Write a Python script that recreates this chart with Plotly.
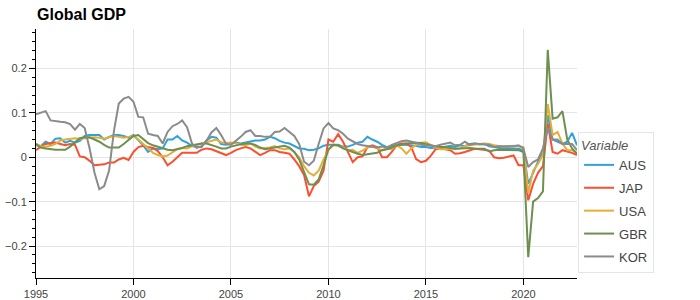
import pandas as pd
import plotly.graph_objects as go

dates = pd.date_range("1995-01-01", periods=112, freq="QS")

AUS = [0.027, 0.025, 0.035, 0.030, 0.042, 0.043, 0.033, 0.037, 0.033, 0.037, 0.048, 0.050,
       0.050, 0.050, 0.040, 0.046, 0.050, 0.050, 0.048, 0.044, 0.050, 0.038, 0.027, 0.012,
       0.020, 0.018, 0.020, 0.040, 0.040, 0.048, 0.038, 0.033, 0.025, 0.023, 0.023, 0.038,
       0.046, 0.044, 0.030, 0.028, 0.030, 0.033, 0.031, 0.033, 0.035, 0.038, 0.038, 0.040,
       0.046, 0.043, 0.037, 0.033, 0.031, 0.026, 0.020, 0.019, 0.016, 0.017, 0.020, 0.026,
       0.028, 0.028, 0.028, 0.024, 0.024, 0.028, 0.033, 0.035, 0.046, 0.040, 0.035, 0.028,
       0.023, 0.025, 0.028, 0.029, 0.028, 0.027, 0.026, 0.023, 0.023, 0.021, 0.021, 0.022,
       0.024, 0.026, 0.023, 0.027, 0.025, 0.030, 0.031, 0.029, 0.030, 0.025, 0.023, 0.021,
       0.021, 0.021, 0.020, 0.019, 0.015, -0.060, -0.035, -0.010, 0.010, 0.095, 0.040, 0.035,
       0.030, 0.035, 0.055, 0.027]

JAP = [0.016, 0.024, 0.030, 0.031, 0.033, 0.030, 0.027, 0.030, 0.028, 0.002, 0.000, -0.008,
       -0.018, -0.017, -0.016, -0.012, -0.012, -0.005, -0.001, -0.006, 0.012, 0.023, 0.026, 0.023,
       0.021, 0.014, 0.000, -0.018, -0.010, 0.000, 0.010, 0.010, 0.010, 0.010, 0.017, 0.020,
       0.018, 0.014, 0.010, 0.005, 0.010, 0.016, 0.020, 0.023, 0.020, 0.012, 0.005, 0.010,
       0.016, 0.016, 0.012, 0.010, 0.008, -0.005, -0.020, -0.040, -0.088, -0.065, -0.055, -0.030,
       0.040, 0.035, 0.052, 0.035, 0.010, -0.011, 0.000, 0.002, 0.023, 0.027, 0.023, 0.000,
       0.000, 0.012, 0.027, 0.031, 0.031, 0.023, -0.004, -0.011, -0.008, 0.003, 0.018, 0.020,
       0.018, 0.016, 0.008, 0.009, 0.012, 0.015, 0.019, 0.018, 0.016, 0.015, 0.000, -0.002,
       -0.001, 0.002, 0.004, -0.018, -0.018, -0.097, -0.060, -0.035, -0.020, 0.076, 0.012, 0.008,
       0.016, 0.013, 0.010, 0.005]

USA = [0.031, 0.025, 0.024, 0.026, 0.030, 0.038, 0.040, 0.042, 0.043, 0.042, 0.043, 0.045,
       0.045, 0.044, 0.042, 0.045, 0.048, 0.046, 0.044, 0.046, 0.048, 0.040, 0.030, 0.020,
       0.010, 0.005, 0.002, 0.004, 0.012, 0.018, 0.021, 0.020, 0.025, 0.028, 0.031, 0.035,
       0.038, 0.040, 0.034, 0.032, 0.033, 0.031, 0.029, 0.027, 0.031, 0.024, 0.020, 0.021,
       0.022, 0.025, 0.020, 0.018, 0.020, 0.012, 0.000, -0.020, -0.035, -0.041, -0.030, -0.005,
       0.016, 0.027, 0.026, 0.022, 0.016, 0.017, 0.010, 0.015, 0.022, 0.024, 0.020, 0.016,
       0.020, 0.018, 0.027, 0.020, 0.008, 0.020, 0.028, 0.033, 0.034, 0.028, 0.022, 0.018,
       0.018, 0.020, 0.018, 0.020, 0.025, 0.027, 0.029, 0.030, 0.031, 0.030, 0.027, 0.025,
       0.024, 0.025, 0.026, 0.025, 0.023, -0.080, -0.030, -0.015, 0.005, 0.120, 0.050, 0.057,
       0.031, 0.016, 0.016, 0.009]

GBR = [0.030, 0.022, 0.020, 0.018, 0.017, 0.017, 0.017, 0.024, 0.033, 0.043, 0.045, 0.045,
       0.040, 0.035, 0.028, 0.022, 0.022, 0.022, 0.030, 0.040, 0.048, 0.050, 0.040, 0.032,
       0.027, 0.024, 0.020, 0.017, 0.016, 0.018, 0.021, 0.025, 0.027, 0.029, 0.031, 0.031,
       0.028, 0.024, 0.020, 0.020, 0.024, 0.027, 0.029, 0.031, 0.031, 0.028, 0.022, 0.018,
       0.020, 0.023, 0.025, 0.026, 0.022, 0.012, -0.005, -0.035, -0.061, -0.062, -0.050, -0.018,
       0.018, 0.028, 0.027, 0.020, 0.015, 0.012, 0.008, 0.005, 0.007, 0.008, 0.010, 0.016,
       0.018, 0.022, 0.027, 0.028, 0.031, 0.032, 0.033, 0.032, 0.029, 0.027, 0.025, 0.023,
       0.023, 0.021, 0.019, 0.020, 0.021, 0.021, 0.020, 0.020, 0.019, 0.013, 0.016, 0.017,
       0.017, 0.016, 0.016, 0.016, 0.012, -0.225, -0.100, -0.092, -0.077, 0.242, 0.087, 0.090,
       0.104, 0.040, 0.020, 0.008]

KOR = [0.097, 0.100, 0.104, 0.083, 0.081, 0.080, 0.079, 0.075, 0.062, 0.075, 0.066, 0.020,
       -0.035, -0.072, -0.065, -0.030, 0.060, 0.121, 0.132, 0.136, 0.125, 0.091, 0.090, 0.053,
       0.050, 0.048, 0.031, 0.057, 0.070, 0.075, 0.083, 0.068, 0.031, 0.021, 0.025, 0.038,
       0.056, 0.066, 0.050, 0.030, 0.028, 0.036, 0.046, 0.057, 0.061, 0.048, 0.048, 0.046,
       0.046, 0.057, 0.058, 0.066, 0.056, 0.048, 0.030, -0.010, -0.018, -0.008, 0.030, 0.065,
       0.077, 0.065, 0.061, 0.053, 0.042, 0.036, 0.030, 0.027, 0.025, 0.023, 0.022, 0.024,
       0.022, 0.028, 0.032, 0.036, 0.038, 0.036, 0.033, 0.028, 0.027, 0.026, 0.025, 0.028,
       0.030, 0.033, 0.027, 0.028, 0.035, 0.028, 0.031, 0.030, 0.030, 0.028, 0.023, 0.025,
       0.025, 0.025, 0.025, 0.027, 0.020, -0.022, -0.011, -0.005, 0.020, 0.065, 0.040, 0.040,
       0.030, 0.030, 0.030, 0.016]

names = ["AUS", "JAP", "USA", "GBR", "KOR"]
series = [AUS, JAP, USA, GBR, KOR]
colors = ["#30a2da", "#fc4f30", "#e5ae38", "#6d904f", "#8b8b8b"]

fig = go.Figure()
for n, s, c in zip(names, series, colors):
    fig.add_trace(go.Scatter(x=dates, y=s, name=n, mode="lines", legendgroup=n,
                             line=dict(color=c, width=2)))

font_family = "Liberation Sans, Arial, Helvetica, sans-serif"
fig.update_layout(
    width=700, height=300,
    margin=dict(l=36, r=123, t=29, b=22),
    paper_bgcolor="white", plot_bgcolor="white",
    font=dict(family=font_family, size=11, color="#444"),
    title=dict(text="<b>Global GDP</b>", x=0.053, xref="container", xanchor="left",
               y=1, yref="container", yanchor="top", pad=dict(t=9),
               font=dict(size=16, color="black", family=font_family)),
    showlegend=True,
    legend=dict(title=dict(text="<i>Variable</i>", font=dict(size=13, color="#555")),
                x=1.002, xanchor="left", y=0.02, yanchor="bottom",
                bordercolor="#e5e5e5", borderwidth=1, bgcolor="white",
                entrywidth=24, entrywidthmode="pixels",
                font=dict(size=13, color="#444"), tracegroupgap=3),
)
fig.update_xaxes(type="date", range=[dates[0], dates[-1]], automargin=False,
                 tick0="1995-01-01", dtick="M60", tickformat="%Y",
                 showgrid=True, gridcolor="#e5e5e5", gridwidth=1,
                 showline=True, linecolor="black", linewidth=1,
                 ticks="outside", ticklen=6, tickcolor="black",
                 zeroline=False, tickfont=dict(size=11, color="#444"))
fig.update_yaxes(range=[-0.272, 0.289], dtick=0.1, tick0=0, automargin=False,
                 showgrid=True, gridcolor="#e5e5e5", gridwidth=1,
                 showline=True, linecolor="black", linewidth=1,
                 ticks="outside", ticklen=6, tickcolor="black",
                 minor=dict(ticks="outside", ticklen=3, dtick=0.02, tick0=0,
                            tickcolor="black", showgrid=False),
                 zeroline=False, tickfont=dict(size=11, color="#444"),
                 tickformat="~g")

fig.write_html("out.html")
